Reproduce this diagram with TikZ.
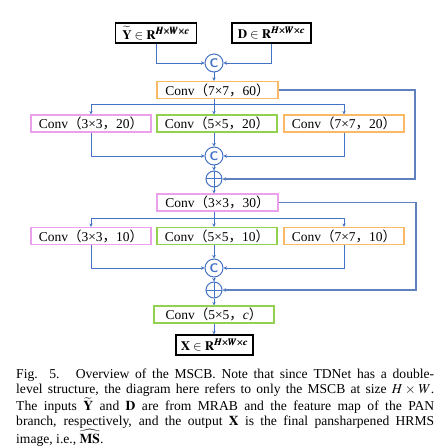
\documentclass[tikz,border=0pt]{standalone}
\usepackage{mathptmx}
\usepackage{bm}
\usepackage[no-math]{fontspec}
\setmainfont{Liberation Serif}
\newfontfamily\cjk{Noto Sans CJK SC}
\usetikzlibrary{arrows.meta}
\definecolor{cblue}{RGB}{68,114,196}
\definecolor{cloop}{RGB}{96,128,190}
\definecolor{corange}{RGB}{250,185,100}
\definecolor{cgreen}{RGB}{146,208,80}
\definecolor{cpink}{RGB}{236,160,236}
\newcommand{\convlab}[2]{Conv{\cjk （}#1{\cjk ，}#2{\cjk ）}}
\newcommand{\hwc}{\bm{H\!\times\! W\!\times\! c}}
\begin{document}
\begin{tikzpicture}[x=1pt,y=-1pt,
  conn/.style={draw=cblue, line width=0.9pt},
  arr/.style={conn, -{Stealth[length=3.5pt,width=3.5pt]}},
  loopline/.style={draw=cloop, line width=1.2pt, -{Stealth[length=3.5pt,width=3.5pt]}},
  convbox/.style={draw=#1, line width=1.1pt, minimum width=120pt, minimum height=17pt, inner sep=0pt, font=\fontsize{13.5}{13.5}\selectfont},
  inbox/.style={draw=black, line width=1.1pt, minimum height=20pt, inner sep=0pt, font=\fontsize{13}{13}\selectfont},
  catc/.style={circle, draw=cblue, line width=1pt, minimum size=18pt, inner sep=0pt, text=cblue, font=\sffamily\bfseries\fontsize{12.5}{12.5}\selectfont},
  addc/.style={circle, draw=cblue, line width=1pt, minimum size=16pt, inner sep=0pt,
    path picture={\draw[cblue, line width=1pt] (path picture bounding box.north) -- (path picture bounding box.south) (path picture bounding box.west) -- (path picture bounding box.east);}}
]
\useasboundingbox (0,0) rectangle (444,446);
% inputs
\node[inbox, minimum width=81pt] (Y) at (156,33) {$\widetilde{\mathbf{Y}}\in\mathbf{R}^{\hwc}$};
\node[inbox, minimum width=79pt] (D) at (271.5,33) {$\mathbf{D}\in\mathbf{R}^{\hwc}$};
\node[catc] (C1) at (214,63) {C};
\node[convbox=corange, minimum width=121pt] (K60) at (217.5,90) {\convlab{7×7}{60}};
% row 1
\coordinate (b1) at (214,104);
\node[convbox=cpink] (L20) at (91,123.5) {\convlab{3×3}{20}};
\node[convbox=cgreen] (M20) at (217,123.5) {\convlab{5×5}{20}};
\node[convbox=corange] (R20) at (344,123.5) {\convlab{7×7}{20}};
\node[catc] (C2) at (214,156) {C};
\node[addc] (P1) at (214,179) {};
\node[convbox=cpink, minimum width=121pt] (K30) at (217.5,202.5) {\convlab{3×3}{30}};
% row 2
\coordinate (b2) at (214,218);
\node[convbox=cpink] (L10) at (91,236) {\convlab{3×3}{10}};
\node[convbox=cgreen] (M10) at (217,236) {\convlab{5×5}{10}};
\node[convbox=corange] (R10) at (344,236) {\convlab{7×7}{10}};
\node[catc] (C3) at (214,268) {C};
\node[addc] (P2) at (214,290) {};
\node[convbox=cgreen] (Kc) at (214,314.5) {\convlab{5×5}{\textit{c}}};
\node[inbox, minimum width=77pt] (X) at (214.5,345) {$\mathbf{X}\in\mathbf{R}^{\hwc}$};
\coordinate (r1) at (415,0);
\coordinate (r2) at (416,0);
% connectors
\draw[arr] (Y.south) |- (C1.west);
\draw[arr] (D.south) |- (C1.east);
\draw[arr] (C1.south) -- (C1 |- K60.north);
\draw[arr] (C1 |- K60.south) -- (C1 |- M20.north);
\draw[conn] (L20.north |- b1) -- (R20.north |- b1);
\draw[arr] (L20.north |- b1) -- (L20.north);
\draw[arr] (R20.north |- b1) -- (R20.north);
\draw[arr] (C1 |- M20.south) -- (C2.north);
\draw[arr] (L20.south) |- (C2.west);
\draw[arr] (R20.south) |- (C2.east);
\draw[arr] (C2.south) -- (P1.north);
\draw[arr] (P1.south) -- (C1 |- K30.north);
\draw[loopline] (K60.east) -| (r1 |- P1) -- (P1.east);
\draw[arr] (C1 |- K30.south) -- (C1 |- M10.north);
\draw[conn] (L10.north |- b2) -- (R10.north |- b2);
\draw[arr] (L10.north |- b2) -- (L10.north);
\draw[arr] (R10.north |- b2) -- (R10.north);
\draw[arr] (C1 |- M10.south) -- (C3.north);
\draw[arr] (L10.south) |- (C3.west);
\draw[arr] (R10.south) |- (C3.east);
\draw[arr] (C3.south) -- (P2.north);
\draw[loopline] (K30.east) -| (r2 |- P2) -- (P2.east);
\draw[arr] (P2.south) -- (C1 |- Kc.north);
\draw[arr] (C1 |- Kc.south) -- (C1 |- X.north);
% caption
\node[anchor=north west, text width=418pt, align=justify, inner sep=0pt, font=\fontsize{13.6}{14.8}\selectfont] (cap) at (16,369)
{Fig. 5.\hspace{1.2em}Overview of the MSCB. Note that since TDNet has a double-\linebreak
level structure, the diagram here refers to only the MSCB at size $H\times W$.\linebreak
The inputs $\widetilde{\mathbf{Y}}$ and $\mathbf{D}$ are from MRAB and the feature map of the PAN\linebreak
branch, respectively, and the output $\mathbf{X}$ is the final pansharpened HRMS\linebreak
image, i.e., $\widehat{\mathbf{MS}}$.};
\end{tikzpicture}
\end{document}
